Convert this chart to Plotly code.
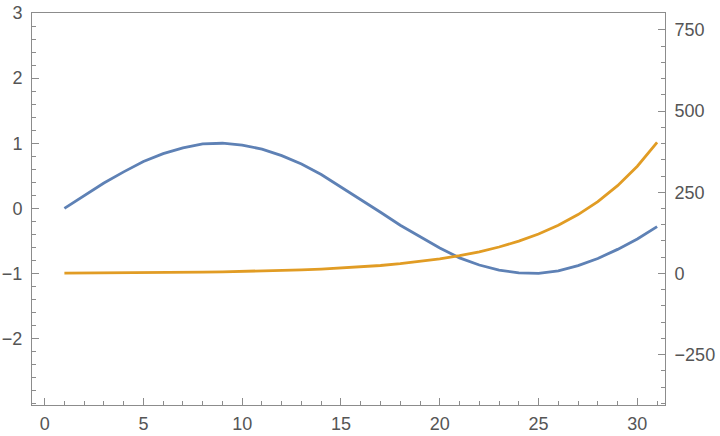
import plotly.graph_objects as go

# x positions (days 1..31)
x = list(range(1, 32))

# left-axis series (blue)
wave = [0.0, 0.2, 0.39, 0.56, 0.72, 0.84, 0.93, 0.99, 1.0, 0.97,
        0.91, 0.81, 0.68, 0.52, 0.33, 0.14, -0.06, -0.26, -0.44, -0.61,
        -0.76, -0.87, -0.95, -0.99, -1.0, -0.96, -0.88, -0.77, -0.63, -0.47,
        -0.28]

# right-axis series (orange)
growth = [1.0, 1.2, 1.5, 1.8, 2.2, 2.7, 3.3, 4.1, 5.0, 6.0,
          7.4, 9.0, 11.0, 13.5, 16.4, 20.1, 24.5, 30.0, 36.6, 44.7,
          54.6, 66.7, 81.5, 99.5, 121.5, 148.4, 181.3, 221.4, 270.4, 330.3,
          403.4]

left_ticks = [-2, -1, 0, 1, 2, 3]
right_ticks = [-250, 0, 250, 500, 750]
x_ticks = [0, 5, 10, 15, 20, 25, 30]

blue = '#5E81B5'
orange = '#E19C24'
frame = '#8c8c8c'
label = '#555555'
tickfont = dict(family='Liberation Sans, Arial, sans-serif', size=18, color=label)

fig = go.Figure()

fig.add_trace(go.Scatter(x=x, y=wave, mode='lines', name='wave',
                         line=dict(color=blue, width=2.8)))
fig.add_trace(go.Scatter(x=x, y=growth, mode='lines', name='growth',
                         line=dict(color=orange, width=2.8), yaxis='y2'))

fig.update_layout(
    width=720, height=436,
    margin=dict(l=32, r=55, t=13, b=31, autoexpand=False),
    paper_bgcolor='white', plot_bgcolor='white',
    showlegend=False,
    xaxis=dict(
        range=[-0.64, 31.4], tickvals=x_ticks, showgrid=False, zeroline=False,
        showline=True, linecolor=frame, linewidth=1, mirror=True, automargin=False,
        ticks='inside', ticklen=7, tickcolor=frame, tickfont=tickfont,
        ticklabelstandoff=2,
        minor=dict(tick0=0, dtick=1, ticks='inside', ticklen=4, tickcolor=frame),
    ),
    yaxis=dict(
        range=[-3.02, 3.0], tickvals=left_ticks, showgrid=False, zeroline=False,
        showline=True, linecolor=frame, linewidth=1, automargin=False,
        ticks='inside', ticklen=7, tickcolor=frame, tickfont=tickfont,
        ticklabelstandoff=5,
        minor=dict(tick0=0, dtick=0.2, ticks='inside', ticklen=4, tickcolor=frame),
    ),
    yaxis2=dict(
        range=[-405, 802], tickvals=right_ticks, overlaying='y', side='right',
        showgrid=False, zeroline=False, automargin=False,
        showline=True, linecolor=frame, linewidth=1,
        ticks='inside', ticklen=7, tickcolor=frame, tickfont=tickfont,
        ticklabelstandoff=5,
        minor=dict(tick0=0, dtick=50, ticks='inside', ticklen=4, tickcolor=frame),
    ),
)

# the page's default body margin would shift the figure by 8px
fig.write_html("out.html", config={'displayModeBar': False},
               post_script="document.body.style.margin='0';")
